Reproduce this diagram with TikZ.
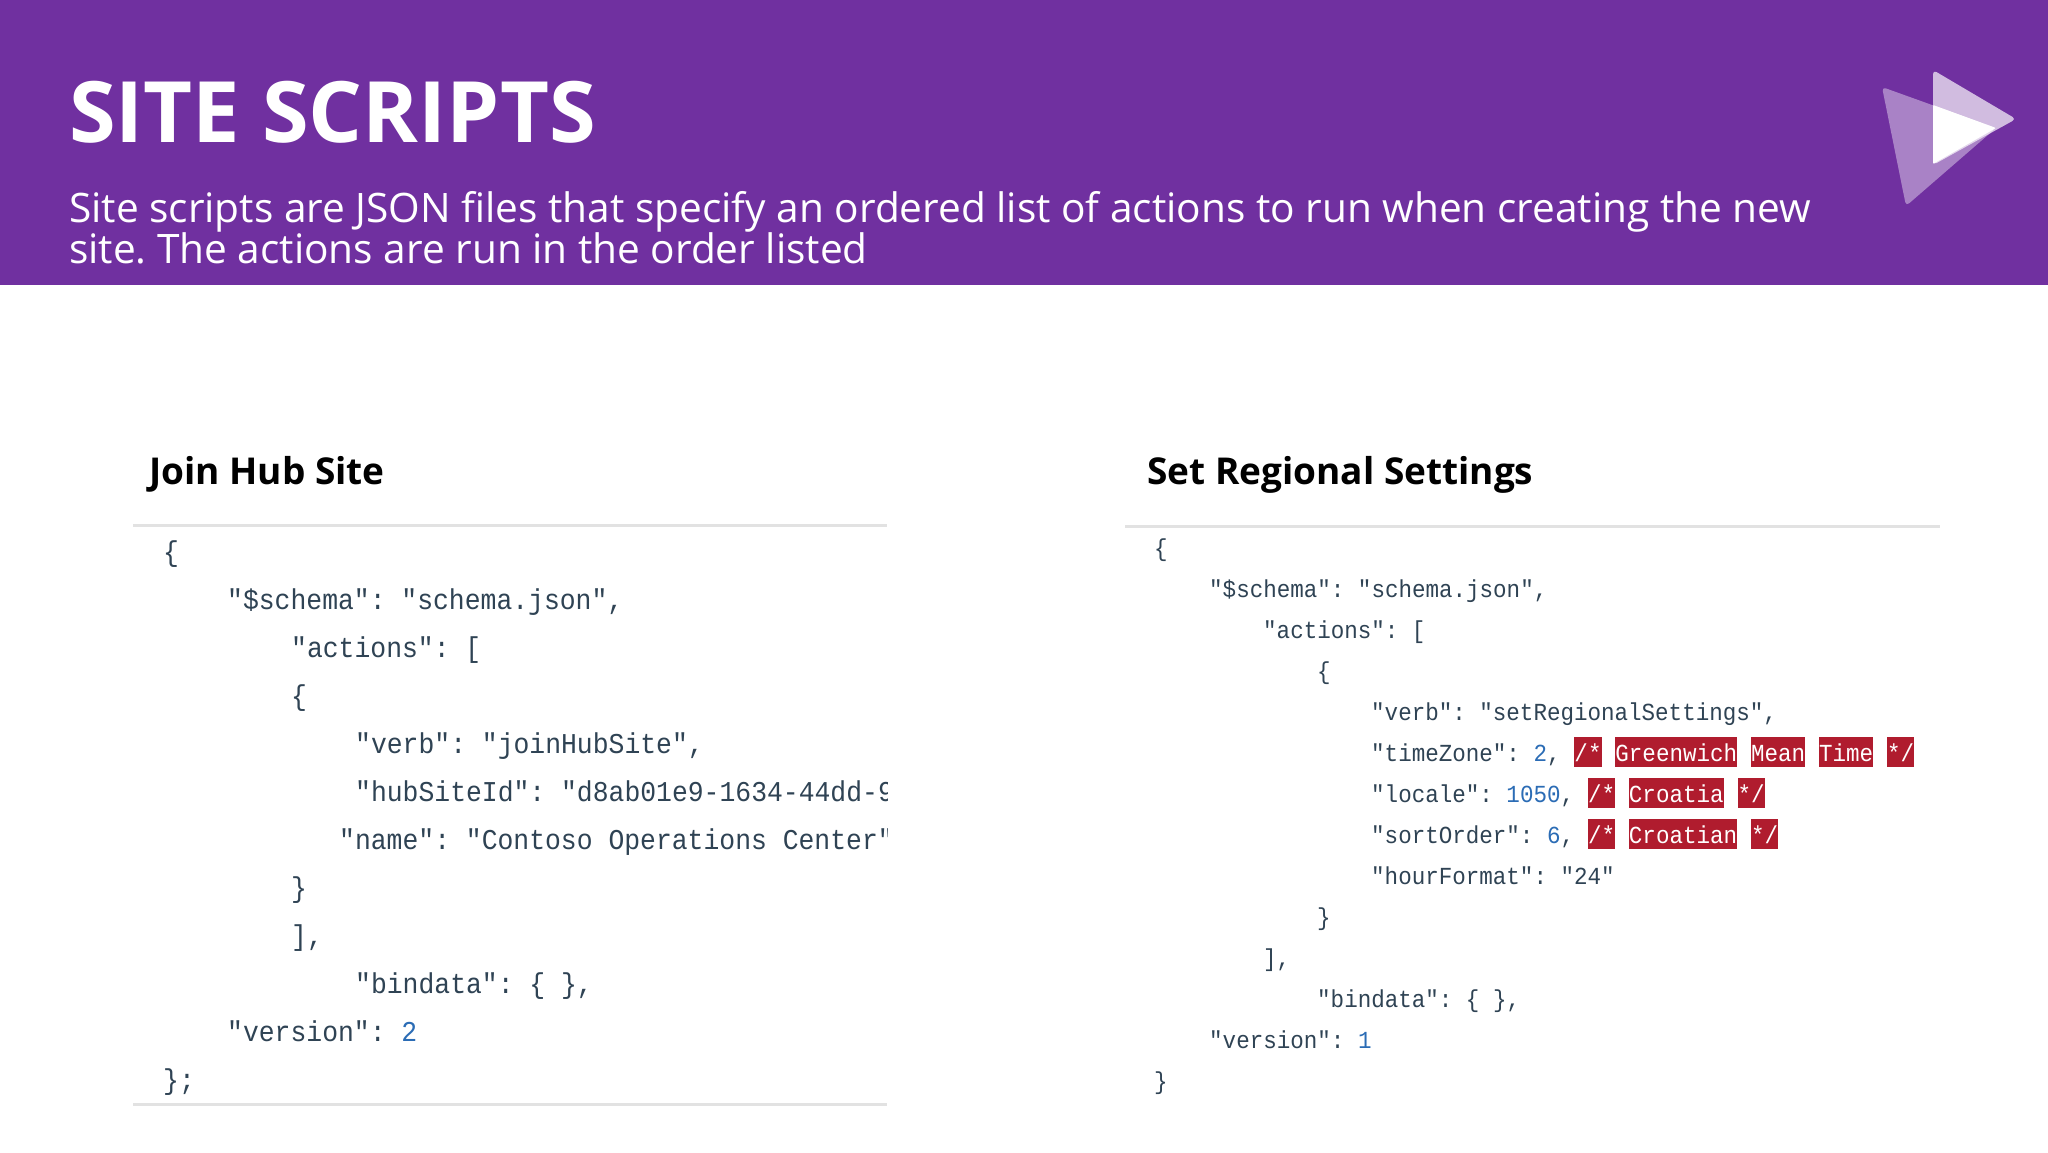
\documentclass[tikz,border=0pt]{standalone}
\usepackage{fontspec}
\setmainfont{Open Sans}
\newfontfamily\jsonfont[FakeStretch=0.92]{Liberation Mono}
\usepackage{xcolor}
\usepackage{tikz}
\usetikzlibrary{positioning}
\frenchspacing

\definecolor{bannerpurple}{HTML}{7030A0}
\definecolor{rulegrey}{HTML}{E2E2E2}
\definecolor{jsoninkcol}{HTML}{2F4354}
\definecolor{numblue}{HTML}{2B6CB5}
\definecolor{errorred}{HTML}{B01C2E}
\newcommand{\jsonnum}[1]{\textcolor{numblue}{#1}}

\tikzset{
  title/.style={anchor=base west, inner sep=0, text=white, font=\fontsize{84.7}{85}\selectfont\bfseries},
  subtitle/.style={anchor=base west, inner sep=0, text=white, align=left, font=\fontsize{40.6}{41}\selectfont},
  heading/.style={anchor=base west, inner sep=0, text=black, font=\fontsize{37}{37}\selectfont\bfseries},
  jsonleft/.style={anchor=base west, inner sep=0, text=jsoninkcol, font=\jsonfont\fontsize{28.7}{29}\selectfont},
  jsonright/.style={anchor=base west, inner sep=0, text=jsoninkcol, text height=24pt, text depth=6pt, font=\jsonfont\fontsize{24.5}{25}\selectfont},
  errtoken/.style={anchor=west, inner sep=0, fill=errorred, text=white, text height=24pt, text depth=6pt, font=\jsonfont\fontsize{24.5}{25}\selectfont},
  rulebar/.style={draw=rulegrey, line width=3pt},
}

\begin{document}
\begin{tikzpicture}[x=1pt,y=-1pt]
\useasboundingbox (0,0) rectangle (2048,1152);
\fill[white] (0,0) rectangle (2048,1152);
\fill[bannerpurple] (0,0) rectangle (2048,285);

% banner
\node (title) [title] at (69,142) {SITE SCRIPTS};
\node (subtitle) [subtitle] at (69,263) {Site scripts are JSON files that specify an ordered list of actions to run when creating the new\\site. The actions are run in the order listed};

% logo
\fill[white, opacity=.4, rounded corners=4pt] (1882,87) -- (1906,206) -- (1996,128) -- cycle;
\fill[white, opacity=.68, rounded corners=4pt] (1933,70) -- (1933,165) -- (2016,119) -- cycle;
\fill[white, rounded corners=1pt] (1933,105) -- (1996,128) -- (1933,164) -- cycle;

% headings and rules
\node (joinhub) [heading] at (149,484) {Join Hub Site};
\node (regional) [heading] at (1147,484) {Set Regional Settings};
\coordinate (ltop1) at (133,525);
\coordinate (ltop2) at (887,525);
\coordinate (lbot1) at (133,1104);
\coordinate (lbot2) at (887,1104);
\coordinate (rtop1) at (1125,526);
\coordinate (rtop2) at (1940,526);
\draw[rulebar] (ltop1) -- (ltop2);
\draw[rulebar] (lbot1) -- (lbot2);
\draw[rulebar] (rtop1) -- (rtop2);

% left listing
\begin{scope}
\clip (133,530) rectangle (887,1100);
\node (l0) [jsonleft] at (163,561) {\{};
\node (l1) [jsonleft] at (227,609) {"\$schema": "schema.json",};
\node (l2) [jsonleft] at (291,657) {"actions": [};
\node (l3) [jsonleft] at (291,705) {\{};
\node (l4) [jsonleft] at (355,753) {"verb": "joinHubSite",};
\node (l5) [jsonleft] at (355,801) {"hubSiteId": "d8ab01e9-1634-44dd-9};
\node (l6) [jsonleft] at (339,849) {"name": "Contoso Operations Center"};
\node (l7) [jsonleft] at (291,897) {\}};
\node (l8) [jsonleft] at (291,945) {],};
\node (l9) [jsonleft] at (355,993) {"bindata": \{ \},};
\node (l10) [jsonleft] at (227,1041) {"version": \jsonnum{2}};
\node (l11) [jsonleft] at (163,1089) {\};};
\end{scope}

% right listing
\node (r0) [jsonright] at (1154,556) {\{};
\node (r1) [jsonright] at (1209,597) {"\$schema": "schema.json",};
\node (r2) [jsonright] at (1263,638) {"actions": [};
\node (r3) [jsonright] at (1317,679) {\{};
\node (r4) [jsonright] at (1371,720) {"verb": "setRegionalSettings",};
\node (r5) [jsonright] at (1371,761) {"timeZone": \jsonnum{2},};
\node (gmt1) [errtoken, right=13.5pt of r5] {/*};
\node (gmt2) [errtoken, right=13.5pt of gmt1] {Greenwich};
\node (gmt3) [errtoken, right=13.5pt of gmt2] {Mean};
\node (gmt4) [errtoken, right=13.5pt of gmt3] {Time};
\node (gmt5) [errtoken, right=13.5pt of gmt4] {*/};
\node (r6) [jsonright] at (1371,802) {"locale": \jsonnum{1050},};
\node (loc1) [errtoken, right=13.5pt of r6] {/*};
\node (loc2) [errtoken, right=13.5pt of loc1] {Croatia};
\node (loc3) [errtoken, right=13.5pt of loc2] {*/};
\node (r7) [jsonright] at (1371,843) {"sortOrder": \jsonnum{6},};
\node (srt1) [errtoken, right=13.5pt of r7] {/*};
\node (srt2) [errtoken, right=13.5pt of srt1] {Croatian};
\node (srt3) [errtoken, right=13.5pt of srt2] {*/};
\node (r8) [jsonright] at (1371,884) {"hourFormat": "24"};
\node (r9) [jsonright] at (1317,925) {\}};
\node (r10) [jsonright] at (1263,966) {],};
\node (r11) [jsonright] at (1317,1007) {"bindata": \{ \},};
\node (r12) [jsonright] at (1209,1048) {"version": \jsonnum{1}};
\node (r13) [jsonright] at (1154,1089) {\}};
\end{tikzpicture}
\end{document}
